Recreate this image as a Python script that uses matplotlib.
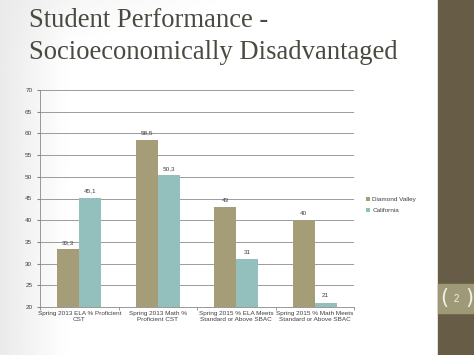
import matplotlib
matplotlib.use("Agg")
import matplotlib.pyplot as plt
import numpy as np
from matplotlib.patches import Rectangle

plt.rcParams["font.family"] = ["Liberation Sans", "DejaVu Sans"]

# data
categories = ["Spring 2013 ELA % Proficient\nCST", "Spring 2013 Math %\nProficient CST",
              "Spring 2015 % ELA Meets\nStandard or Above SBAC", "Spring 2015 % Math Meets\nStandard or Above SBAC"]
diamond_valley = [33.3, 58.5, 43, 40]
california = [45.1, 50.3, 31, 21]
dv_labels = ["33,3", "58,5", "43", "40"]
ca_labels = ["45,1", "50,3", "31", "21"]
yticks = [20, 25, 30, 35, 40, 45, 50, 55, 60, 65, 70]

W, H = 474, 355
fig = plt.figure(figsize=(W / 100, H / 100), dpi=100)

# slide background with soft grey shading on the left/bottom
bg = fig.add_axes([0, 0, 1, 1])
xx, yy = np.meshgrid(np.linspace(0, 1, 200), np.linspace(0, 1, 150))
shade = 0.92 + 0.08 * np.clip(xx * 7, 0, 1) * np.clip(0.4 + yy * 3 + xx * 1.2, 0, 1)
bg.imshow(shade, cmap="gray", vmin=0, vmax=1, extent=[0, W, 0, H], aspect="auto", origin="lower")
bg.set_xlim(0, W)
bg.set_ylim(H, 0)
bg.axis("off")

# right strip + page number box
bg.add_patch(Rectangle((438, 0), 36, H, color="#675c45"))
bg.add_patch(Rectangle((438, 284), 36, 29, color="#9e9a77"))
bg.text(456, 299, "2", color="#f2f0e6", fontsize=7, ha="center", va="center")
bg.text(444, 298, "(", color="#f2f0e6", fontsize=15, ha="center", va="center", family="DejaVu Sans")
bg.text(469, 298, ")", color="#f2f0e6", fontsize=15, ha="center", va="center", family="DejaVu Sans")

# title
bg.text(29, 8, "Student Performance -\nSocioeconomically Disadvantaged", fontsize=19.2,
        family="Liberation Serif", color="#4a4a40", va="top", ha="left", linespacing=1.38)

# chart
ax = fig.add_axes([40 / W, 1 - 307 / H, (354 - 40) / W, (307 - 90) / H])
ax.set_facecolor("none")
x = np.arange(len(categories))
bw = 0.28
b1 = ax.bar(x - bw / 2, diamond_valley, bw, color="#a59d78", label="Diamond Valley", zorder=3)
b2 = ax.bar(x + bw / 2, california, bw, color="#93bfbd", label="California", zorder=3)
for rect, lab in zip(b1, dv_labels):
    ax.text(rect.get_x() + rect.get_width() / 2, rect.get_height() + 1.0, lab,
            ha="center", va="bottom", fontsize=4.6, color="#404040")
for rect, lab in zip(b2, ca_labels):
    ax.text(rect.get_x() + rect.get_width() / 2, rect.get_height() + 1.0, lab,
            ha="center", va="bottom", fontsize=4.6, color="#404040")

ax.set_ylim(20, 70)
ax.set_xlim(-0.5, len(categories) - 0.5)
ax.set_yticks(yticks)
ax.set_xticks(x)
ax.set_xticklabels(categories, fontsize=4.6, color="#404040")
ax.tick_params(axis="y", labelsize=4.6, labelcolor="#404040", length=2, color="#888888")
ax.tick_params(axis="x", length=0, pad=3)
ax.set_xticks(np.arange(-0.5, len(categories), 1), minor=True)
ax.tick_params(axis="x", which="minor", length=2, color="#888888")
ax.grid(axis="y", color="#8c8c8c", linewidth=0.6, zorder=0)
for s in ["top", "right"]:
    ax.spines[s].set_visible(False)
ax.spines["left"].set_color("#888888")
ax.spines["bottom"].set_color("#888888")
ax.spines["left"].set_linewidth(0.6)
ax.spines["bottom"].set_linewidth(0.6)

ax.legend(loc="center left", bbox_to_anchor=(1.02, 0.47), frameon=False, fontsize=4.6,
          handlelength=0.6, handleheight=0.6, handletextpad=0.4, labelspacing=0.9, labelcolor="#404040")

fig.savefig("out.png", dpi=100)
